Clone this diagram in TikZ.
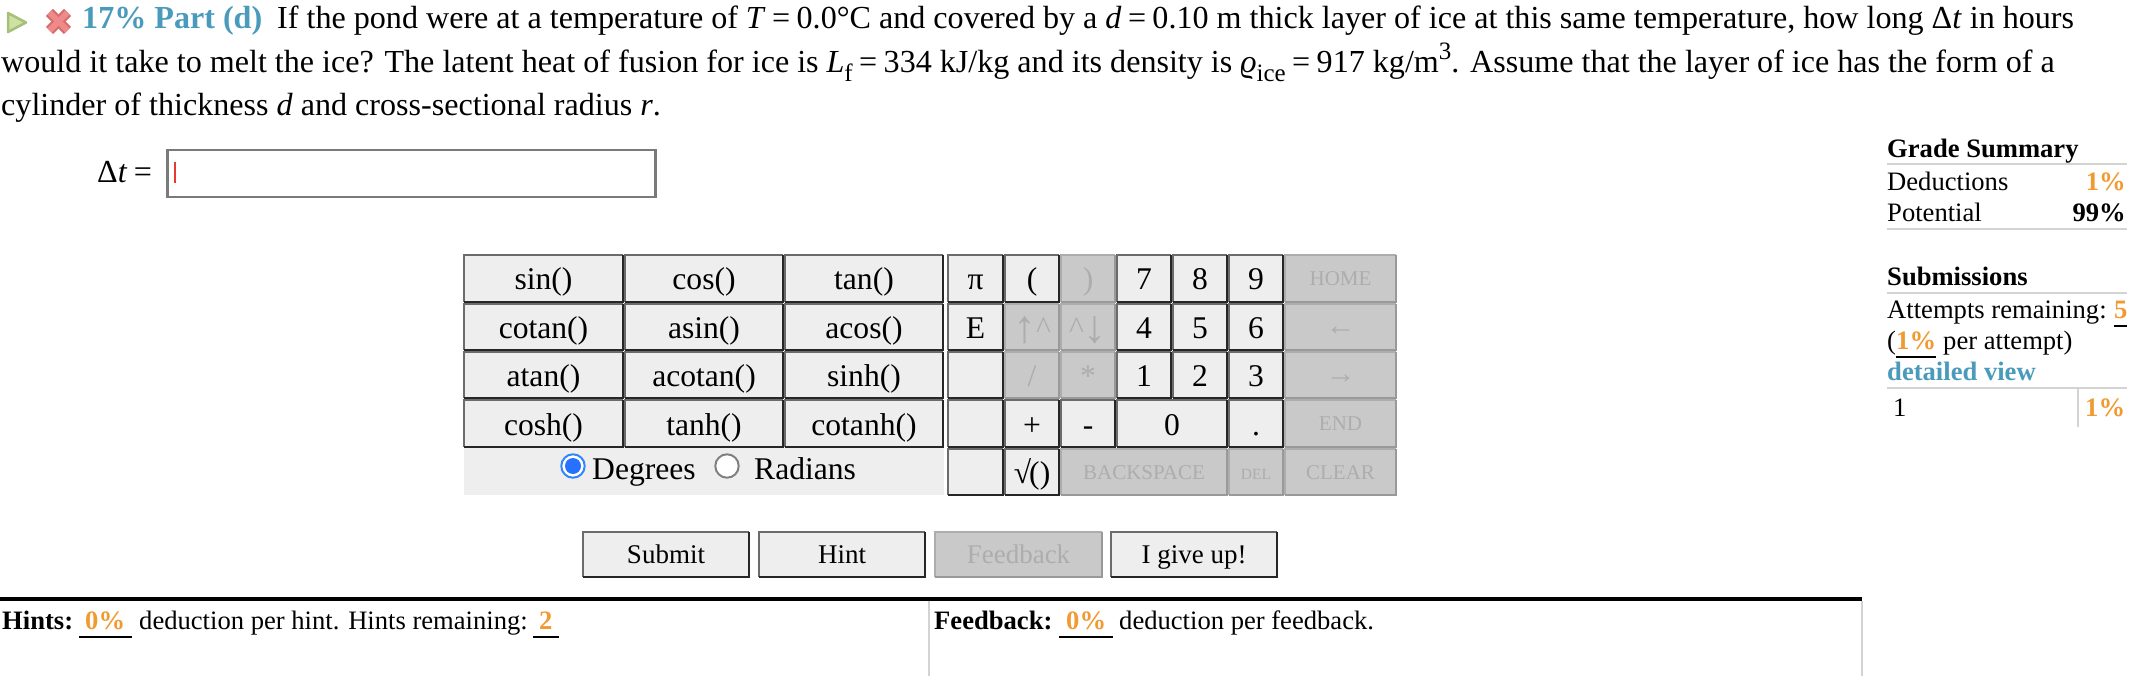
\documentclass[tikz,border=0pt]{standalone}
\usepackage{fontspec}
\setmainfont{Liberation Serif}
\definecolor{orangetxt}{HTML}{F19A32}
\definecolor{bluetxt}{HTML}{4A9BBB}
\definecolor{keyfill}{HTML}{EEEEEE}
\definecolor{keyofffill}{HTML}{C9C9C9}
\definecolor{ruleline}{HTML}{D3D3D3}
\definecolor{playfill}{HTML}{CFE0A4}
\definecolor{playedge}{HTML}{A6BF7A}
\definecolor{crossedge}{HTML}{D96B6B}
\definecolor{crossfill}{HTML}{EE8A8A}
\definecolor{cursorline}{HTML}{E63A2E}
\newcommand{\lowtext}[1]{\raisebox{-.28em}{\fontsize{25}{25}\selectfont #1}}
\newcommand{\hightext}[1]{\raisebox{.42em}{\fontsize{25}{25}\selectfont #1}}
\newcommand{\bigarrow}[1]{\raisebox{-.12em}{\fontsize{46}{46}\selectfont #1}}
\newcommand{\sidearrow}[1]{\raisebox{-.05em}{\fontsize{30}{30}\selectfont #1}}
\newcommand{\eqsign}{\hspace{.2em}=\hspace{.2em}}
\newcommand{\keycell}[7]{%
	\node[#1,minimum width={(#4-#3)*1pt},minimum height={(#6-#5)*1pt}] (#2) at ({(#3+#4)/2},{(#5+#6)/2}) {#7};
	\draw[#1 high] (#2.south west) -- (#2.north west) -- (#2.north east);
	\draw[#1 low] (#2.north east) -- (#2.south east) -- (#2.south west);
}
\tikzset{
	plaintxt/.style={anchor=base west,inner sep=0pt,font=\fontsize{32.1}{36}\selectfont},
	sidetxt/.style={anchor=base west,inner sep=0pt,font=\fontsize{26.6}{30}\selectfont},
	sideend/.style={anchor=base east,inner sep=0pt,font=\fontsize{26.6}{30}\selectfont},
	keyon/.style={fill=keyfill,inner sep=0pt,text height=28pt,text depth=5pt,font=\fontsize{31.6}{36}\selectfont},
	keyon high/.style={line width=2pt,color=black!58},
	keyon low/.style={line width=2pt,color=black!85},
	keyoff/.style={fill=keyofffill,inner sep=0pt,text=black!32,text height=28pt,text depth=5pt,font=\fontsize{31.6}{36}\selectfont},
	keyoff high/.style={line width=2pt,color=black!32},
	keyoff low/.style={line width=2pt,color=black!40},
	keysmall/.style={keyoff,text height=17pt,text depth=3pt,font=\fontsize{21}{24}\selectfont},
	keysmall high/.style={keyoff high},
	keysmall low/.style={keyoff low},
	btnon/.style={keyon,text height=26pt,text depth=9pt,font=\fontsize{27}{30}\selectfont},
	btnon high/.style={keyon high},
	btnon low/.style={keyon low},
	btnoff/.style={keyoff,text height=26pt,text depth=9pt,font=\fontsize{27}{30}\selectfont},
	btnoff high/.style={keyoff high},
	btnoff low/.style={keyoff low},
	sidebar/.style={line width=2pt,color=ruleline},
	underbar/.style={line width=2pt,color=black}
}
\begin{document}
\begin{tikzpicture}[x=1pt,y=-1pt]
\useasboundingbox (0,0) rectangle (2150,676);
% part header
\filldraw[fill=playfill,draw=playedge,line width=2.5pt,line join=round] (8,13) -- (26,22.5) -- (8,32) -- cycle;
\draw[line width=10pt,color=crossedge] (49.5,12.5) -- (67.5,30.5);
\draw[line width=10pt,color=crossedge] (67.5,12.5) -- (49.5,30.5);
\draw[line width=6pt,color=crossfill] (49.5,12.5) -- (67.5,30.5);
\draw[line width=6pt,color=crossfill] (67.5,12.5) -- (49.5,30.5);
\node[plaintxt,text=bluetxt] (parttitle) at (82,29) {\textbf{17\% Part (d)}};
\node[plaintxt] (lineone) at (277,29) {If the pond were at a temperature of \textit{T}\eqsign 0.0°C and covered by a \textit{d}\eqsign 0.10 m thick layer of ice at this same temperature, how long Δ\textit{t} in hours};
\node[plaintxt] (linetwo) at (1,73) {would it take to melt the ice? The latent heat of fusion for ice is \textit{L}\lowtext{f}\eqsign 334 kJ/kg and its density is \textit{ϱ}\lowtext{ice}\eqsign 917 kg/m\hightext{3}. Assume that the layer of ice has the form of a};
\node[plaintxt] (linethree) at (1,116) {cylinder of thickness \textit{d} and cross-sectional radius \textit{r}.};
% answer box
\node[plaintxt] (answerlabel) at (97,183) {Δ\textit{t}\eqsign};
\draw[line width=2.5pt,color=black!52] (167.5,150) rectangle (655.5,197);
\draw[line width=1.5pt,color=cursorline] (175,162) -- (175,183);
% function keys
\foreach \nm/\xa/\xb/\ya/\yb/\txt in {
	ksin/464/623/255/302/sin(),kcos/625/783/255/302/cos(),ktan/785/943/255/302/tan(),
	kcotan/464/623/304/350/cotan(),kasin/625/783/304/350/asin(),kacos/785/943/304/350/acos(),
	katan/464/623/352/398/atan(),kacotan/625/783/352/398/acotan(),ksinh/785/943/352/398/sinh(),
	kcosh/464/623/400/447/cosh(),ktanh/625/783/400/447/tanh(),kcotanh/785/943/400/447/cotanh(),
	kpi/948/1003/255/302/π,kopen/1005/1059/255/302/(,
	kseven/1117/1171/255/302/7,keight/1173/1227/255/302/8,knine/1229/1283/255/302/9,
	ke/948/1003/304/350/E,kfour/1117/1171/304/350/4,kfive/1173/1227/304/350/5,ksix/1229/1283/304/350/6,
	kblanka/948/1003/352/398/,kone/1117/1171/352/398/1,ktwo/1173/1227/352/398/2,kthree/1229/1283/352/398/3,
	kblankb/948/1003/400/447/,kplus/1005/1059/400/447/+,kminus/1061/1115/400/447/-,kzero/1117/1227/400/447/0,kdot/1229/1283/400/447/.,
	kblankc/948/1003/449/495/,kroot/1005/1059/449/495/√\kern-.06em()
}
{
	\keycell{keyon}{\nm}{\xa}{\xb}{\ya}{\yb}{\txt}
}
\foreach \nm/\xa/\xb/\ya/\yb/\txt in {
	kclose/1061/1115/255/302/),kup/1005/1059/304/350/\bigarrow{↑}\^{},kdown/1061/1115/304/350/\^{}\bigarrow{↓},
	kdiv/1005/1059/352/398/{/},ktimes/1061/1115/352/398/*
}
{
	\keycell{keyoff}{\nm}{\xa}{\xb}{\ya}{\yb}{\txt}
}
\foreach \nm/\xa/\xb/\ya/\yb/\txt in {
	khome/1285/1396/255/302/HOME,kleft/1285/1396/304/350/\sidearrow{←},kright/1285/1396/352/398/\sidearrow{→},kend/1285/1396/400/447/END,
	kback/1061/1227/449/495/BACKSPACE,kclear/1285/1396/449/495/CLEAR
}
{
	\keycell{keysmall}{\nm}{\xa}{\xb}{\ya}{\yb}{\txt}
}
\keycell{keysmall}{kdel}{1229}{1283}{449}{495}{\fontsize{15.5}{18}\selectfont DEL}
% angle mode
\fill[keyfill] (464,448) rectangle (944,495);
\draw[line width=2pt,color=blue!60!cyan!80!white,fill=white] (573,466) circle (11.7);
\fill[blue!65!cyan!85!white] (573,466) circle (8);
\draw[line width=2pt,color=black!50,fill=white] (727,466) circle (11.7);
\node[plaintxt,font=\fontsize{31.6}{36}\selectfont] (degrees) at (592,479) {Degrees};
\node[plaintxt,font=\fontsize{31.6}{36}\selectfont] (radians) at (754,479) {Radians};
% buttons
\keycell{btnon}{bsubmit}{583}{749}{532}{577}{Submit}
\keycell{btnon}{bhint}{759}{925}{532}{577}{Hint}
\keycell{btnoff}{bfeedback}{935}{1102}{532}{577}{Feedback}
\keycell{btnon}{bgiveup}{1111}{1277}{532}{577}{I give up!}
% hints and feedback
\draw[line width=4pt] (0,599) -- (1862,599);
\draw[sidebar] (929,601) -- (929,676);
\draw[sidebar] (1862,601) -- (1862,676);
\node[sidetxt] (hintsa) at (2,629) {\textbf{Hints:}};
\node[sidetxt,text=orangetxt] (hintsb) at (85,629) {\textbf{0\%}};
\node[sidetxt] (hintsc) at (139,629) {deduction per hint. Hints remaining:};
\node[sidetxt,text=orangetxt] (hintsd) at (539,629) {\textbf{2}};
\draw[underbar] (79,637) -- (132,637);
\draw[underbar] (533,637) -- (559,637);
\node[sidetxt] (feeda) at (934,629) {\textbf{Feedback:}};
\node[sidetxt,text=orangetxt] (feedb) at (1066,629) {\textbf{0\%}};
\node[sidetxt] (feedc) at (1119,629) {deduction per feedback.};
\draw[underbar] (1059,637) -- (1113,637);
% grade summary
\node[sidetxt] (gradetitle) at (1887,158) {\textbf{Grade Summary}};
\draw[sidebar] (1887,164) -- (2127,164);
\node[sidetxt] (deductions) at (1887,191) {Deductions};
\node[sideend,text=orangetxt] (deductval) at (2126,191) {\textbf{1\%}};
\node[sidetxt] (potential) at (1887,222) {Potential};
\node[sideend] (potentval) at (2126,222) {\textbf{99\%}};
\draw[sidebar] (1887,229) -- (2127,229);
\node[sidetxt] (subtitle) at (1887,286) {\textbf{Submissions}};
\draw[sidebar] (1887,293) -- (2127,293);
\node[sidetxt] (attempts) at (1887,319) {Attempts remaining:};
\node[sidetxt,text=orangetxt] (attemptval) at (2114,319) {\textbf{5}};
\draw[underbar] (2114,326) -- (2127,326);
\node[sidetxt] (peropen) at (1887,349) {(};
\node[sidetxt,text=orangetxt] (perval) at (1896,349) {\textbf{1\%}};
\node[sidetxt] (perrest) at (1943,349) {per attempt)};
\draw[underbar] (1896,357) -- (1936,357);
\node[sidetxt,text=bluetxt] (detailed) at (1887,380) {\textbf{detailed view}};
\draw[sidebar] (1887,388) -- (2127,388);
\draw[sidebar] (2078,388) -- (2078,427);
\node[sidetxt] (attemptno) at (1893,416) {1};
\node[sidetxt,text=orangetxt] (attemptcost) at (2085,416) {\textbf{1\%}};
\end{tikzpicture}
\end{document}
